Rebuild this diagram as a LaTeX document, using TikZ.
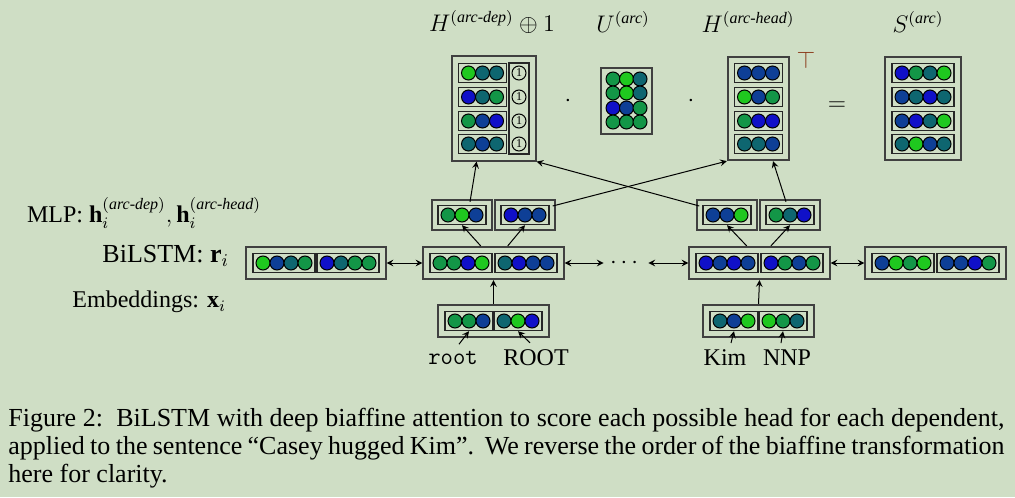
\documentclass[tikz,border=0pt]{standalone}
\usepackage{amsmath}
\usepackage{fontspec}
\setmainfont{Liberation Serif}
\usetikzlibrary{fit,calc}
\definecolor{bg}{HTML}{CFDEC5}
\definecolor{Gr}{HTML}{1FC81F}
\definecolor{Gn}{HTML}{139647}
\definecolor{Tl}{HTML}{0E6670}
\definecolor{Nv}{HTML}{0E3F96}
\definecolor{Bl}{HTML}{1010C8}
\definecolor{tcol}{HTML}{8B3A1A}
\tikzset{
  dot/.style={circle,draw=black,line width=0.5pt,minimum size=7pt,inner sep=0pt},
  vbox/.style={draw=black!85,line width=0.7pt,inner sep=0pt},
  outer/.style={draw=black!75,line width=0.9pt,inner sep=3pt},
  arr/.style={->,>=stealth,line width=0.5pt},
  lbl/.style={font=\fontsize{12}{14}\selectfont}
}
% name, x, y, count, colours
\newcommand{\vecbox}[5]{%
  \node[vbox,minimum width={(#4*14+6)*0.5pt},minimum height=9.5pt] (#1) at (#2,#3) {};
  \foreach \c [count=\i] in {#5}{
    \node[dot,fill=\c] at ({#2+(\i-(#4+1)/2)*14},#3) {};
  }%
}
\begin{document}
\begin{tikzpicture}[x=0.5pt,y=-0.5pt]
\fill[bg] (0,0) rectangle (1015,497);
\useasboundingbox (0,0) rectangle (1015,497);

% top labels
\node[lbl] (lhd) at (492,22) {$H^{(\textit{arc-dep})}\oplus 1$};
\node[lbl] (lu) at (623,22) {$U^{(\textit{arc})}$};
\node[lbl] (lhh) at (748,22) {$H^{(\textit{arc-head})}$};
\node[lbl] (ls) at (918,22) {$S^{(\textit{arc})}$};

% H dep + 1
\vecbox{d1}{482.5}{73}{3}{Gr,Tl,Tl}
\vecbox{d2}{482.5}{97}{3}{Bl,Tl,Gn}
\vecbox{d3}{482.5}{121}{3}{Gn,Nv,Bl}
\vecbox{d4}{482.5}{144}{3}{Tl,Nv,Tl}
\node[vbox,minimum width=10pt,minimum height=45.5pt] (one) at (519,108.5) {};
\foreach \y in {73,97,121,144}{
  \node[dot,fill=bg,font=\fontsize{6}{6}\selectfont] at (519,\y) {1};
}
\node[outer,fit=(d1)(d4)(one)] (hdep) {};

\node[lbl] (dotA) at (568,101) {$\cdot$};

% U
\node[outer,inner sep=0pt,minimum width=25.5pt,minimum height=33pt] (U) at (626.5,101) {};
\foreach \r/\cs in {79/{Gn,Gr,Tl},93/{Gn,Gr,Tl},108/{Bl,Nv,Gn},122/{Gn,Gn,Gn}}{
  \foreach \c [count=\i] in \cs{
    \node[dot,fill=\c] at ({599.5+\i*13.5},\r) {};
  }
}

\node[lbl] (dotB) at (691,101) {$\cdot$};

% H head
\vecbox{h1}{758.5}{73}{3}{Nv,Nv,Nv}
\vecbox{h2}{758.5}{97}{3}{Gr,Nv,Gn}
\vecbox{h3}{758.5}{121}{3}{Gn,Bl,Bl}
\vecbox{h4}{758.5}{144}{3}{Tl,Tl,Nv}
\node[outer,fit=(h1)(h4)] (hhead) {};
\node[lbl,text=tcol] (tp) at (806,60) {$\top$};
\node[lbl] (eq) at (837,106) {$=$};

% S
\vecbox{s1}{923}{73}{4}{Bl,Gn,Tl,Gr}
\vecbox{s2}{923}{97}{4}{Nv,Tl,Bl,Tl}
\vecbox{s3}{923}{121}{4}{Nv,Bl,Tl,Gr}
\vecbox{s4}{923}{144}{4}{Tl,Gr,Nv,Tl}
\node[outer,fit=(s1)(s4)] (S) {};

% MLP
\vecbox{m1}{462}{215}{3}{Gn,Gr,Nv}
\vecbox{m2}{525}{215}{3}{Bl,Nv,Nv}
\vecbox{m3}{727}{215}{3}{Nv,Nv,Gr}
\vecbox{m4}{790}{215}{3}{Gn,Tl,Bl}
\foreach \m in {m1,m2,m3,m4}{
  \node[outer,inner sep=2.5pt,fit=(\m)] {};
}

% BiLSTM
\vecbox{b1a}{284}{263}{4}{Gr,Nv,Tl,Gn}
\vecbox{b1b}{348}{263}{4}{Bl,Tl,Gn,Gn}
\node[outer,fit=(b1a)(b1b)] (b1) {};
\vecbox{b2a}{461}{263}{4}{Gn,Gn,Bl,Gr}
\vecbox{b2b}{526}{263}{4}{Tl,Bl,Nv,Nv}
\node[outer,fit=(b2a)(b2b)] (b2) {};
\vecbox{b3a}{727}{263}{4}{Bl,Nv,Bl,Nv}
\vecbox{b3b}{792}{263}{4}{Bl,Gn,Nv,Gn}
\node[outer,fit=(b3a)(b3b)] (b3) {};
\vecbox{b4a}{903}{263}{4}{Nv,Gr,Gn,Gr}
\vecbox{b4b}{968}{263}{4}{Nv,Nv,Bl,Gn}
\node[outer,fit=(b4a)(b4b)] (b4) {};
\node[lbl,minimum width=22pt,inner sep=0pt] (dots) at (626,263) {$\cdots$};

% Embeddings
\vecbox{e1a}{469}{321}{3}{Gn,Gn,Nv}
\vecbox{e1b}{518}{321}{3}{Tl,Gr,Bl}
\node[outer,fit=(e1a)(e1b)] (e1) {};
\vecbox{e2a}{734}{321}{3}{Tl,Nv,Gr}
\vecbox{e2b}{783}{321}{3}{Gr,Gn,Tl}
\node[outer,fit=(e2a)(e2b)] (e2) {};

% words
\node[lbl] (wroot) at (453,358) {\texttt{root}};
\node[lbl] (wROOT) at (536,358) {ROOT};
\node[lbl] (wKim) at (725,358) {Kim};
\node[lbl] (wNNP) at (787,358) {NNP};

% left labels
\node[lbl,anchor=west] (lmlp) at (20,213) {MLP: $\mathbf{h}_i^{(\textit{arc-dep})}, \mathbf{h}_i^{(\textit{arc-head})}$};
\node[lbl,anchor=east,font=\fontsize{13}{15}\selectfont] (lbil) at (236,256) {BiLSTM: $\mathbf{r}_i$};
\node[lbl,anchor=east] (lemb) at (233,302) {Embeddings: $\mathbf{x}_i$};

% connectors
\draw[arr] ($(wroot.north)+(6,0)$) -- (e1a.south);
\draw[arr] ($(wROOT.north)+(-6,0)$) -- (e1b.south);
\draw[arr] ($(wKim.north)+(6,0)$) -- (e2a.south);
\draw[arr] ($(wNNP.north)+(-6,0)$) -- (e2b.south);
\draw[arr] (e1.north) -- (b2.south);
\draw[arr] (e2.north) -- (b3.south);
\draw[arr,<->] (b1.east) -- (b2.west);
\draw[arr,<->] (b2.east) -- (dots.west);
\draw[arr,<->] (dots.east) -- (b3.west);
\draw[arr,<->] (b3.east) -- (b4.west);
\draw[arr] ($(b2.north west)!0.41!(b2.north east)$) -- (m1.south);
\draw[arr] ($(b2.north west)!0.6!(b2.north east)$) -- (m2.south);
\draw[arr] ($(b3.north west)!0.41!(b3.north east)$) -- (m3.south);
\draw[arr] ($(b3.north west)!0.58!(b3.north east)$) -- (m4.south);
\draw[arr] ($(m1.north)+(8,-3)$) -- ($(hdep.south west)!0.3!(hdep.south east)$);
\draw[arr] ($(m2.east)+(3,-9)$) -- (hhead.south west);
\draw[arr] ($(m3.west)+(-3,-9)$) -- (hdep.south east);
\draw[arr] ($(m4.north)+(-4,-3)$) -- ($(hhead.south west)!0.73!(hhead.south east)$);

% caption
\node[anchor=north west,text width=498pt,align=justify,inner sep=0pt,
  font=\fontsize{13}{14}\selectfont] (cap) at (8,408)
  {Figure 2:\ \ BiLSTM with deep biaffine attention to score each possible head for each dependent, applied to the sentence ``Casey hugged Kim''.\ \ We reverse the order of the biaffine transformation here for clarity.};
\end{tikzpicture}
\end{document}
